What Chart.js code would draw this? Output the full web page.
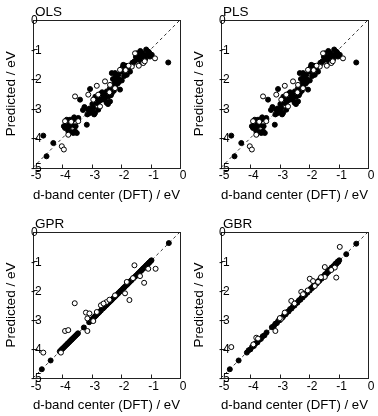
<!DOCTYPE html>
<html><head><meta charset="utf-8">
<script src="https://cdn.jsdelivr.net/npm/chart.js@4.4.0/dist/chart.umd.min.js"></script>
<style>
html,body{margin:0;padding:0;background:#fff;width:378px;height:416px;overflow:hidden}
.p{position:absolute}
canvas{display:block}
</style></head><body>
<div class="p" style="left:0;top:0"><canvas id="c1" width="189" height="208"></canvas></div>
<div class="p" style="left:188px;top:0"><canvas id="c2" width="189" height="208"></canvas></div>
<div class="p" style="left:0;top:212px"><canvas id="c3" width="189" height="204"></canvas></div>
<div class="p" style="left:188px;top:212px"><canvas id="c4" width="189" height="204"></canvas></div>
<script>
// ---- data ----
const panelNames = ['OLS', 'PLS', 'GPR', 'GBR'];
const xTitle = 'd-band center (DFT) / eV';
const yTitle = 'Predicted / eV';
const tickValues = [-5, -4, -3, -2, -1, 0];
const tickLabels = ['-5', '-4', '-3', '-2', '-1', '0'];
const diagonal = [-5, 0];

// OLS: filled = training, open = test
const olsTrainDFT = [-4.54,-4.31,-4.65,-3.91,-3.80,-3.74,-3.63,-3.68,-3.57,-3.63,
  -3.51,-3.46,-3.85,-3.80,-3.88,-3.40,-3.06,-3.12,-3.00,-2.89,
  -3.06,-2.95,-2.78,-3.17,-2.83,-2.72,-2.66,-2.61,-2.55,-2.49,
  -2.44,-2.38,-2.32,-2.38,-2.27,-2.04,-2.21,-2.04,-2.15,-2.10,
  -1.98,-2.21,-2.32,-1.93,-1.87,-1.76,-1.81,-1.70,-1.64,-1.47,
  -1.36,-1.25,-1.13,-1.08,-1.42,-1.30,-1.02,-0.96,-0.40,-2.83,
  -2.60,-2.50,-2.20,-2.12,-1.95,-1.90,-1.55,-1.50,-1.35,-1.20,
  -1.15,-1.05,-3.70,-3.60,-3.95,-2.92,-3.08,-2.70,-2.45,-2.28,
  -3.30,-3.25,-3.15,-2.98,-2.88,-2.75,-2.65,-2.52,-2.35,-2.25,
  -2.18,-2.08,-1.98,-1.85,-1.72,-1.62,-1.28,-1.18,-3.78,-3.55];
const olsTrainPred = [-4.62,-4.17,-3.92,-3.66,-3.55,-3.38,-3.38,-3.55,-3.77,-3.83,
  -3.83,-3.32,-3.38,-3.77,-3.50,-2.70,-2.34,-3.04,-3.10,-3.15,
  -3.15,-2.98,-3.04,-3.55,-2.82,-2.59,-2.70,-2.53,-2.70,-2.42,
  -2.59,-2.76,-2.48,-2.31,-2.20,-2.36,-2.08,-2.03,-1.97,-1.86,
  -1.75,-1.80,-1.80,-1.52,-1.63,-1.63,-1.86,-1.75,-1.52,-1.13,
  -1.24,-1.30,-1.18,-1.07,-1.35,-1.41,-1.24,-1.18,-1.44,-2.70,
  -2.65,-2.80,-2.25,-2.15,-1.60,-1.90,-1.40,-1.25,-1.05,-1.20,
  -1.00,-1.10,-3.80,-3.30,-3.60,-3.20,-3.00,-2.50,-2.85,-2.00,
  -3.05,-2.95,-3.20,-2.85,-2.60,-2.75,-2.45,-2.55,-2.55,-2.40,
  -1.90,-2.10,-2.05,-1.55,-1.58,-1.45,-1.12,-1.32,-3.62,-3.60];
const olsTestDFT = [-1.53,-1.25,-0.85,-1.64,-2.55,-2.83,-2.04,-2.21,-2.78,-2.72,
  -2.38,-3.12,-3.57,-2.95,-3.91,-3.80,-4.02,-3.95,-1.40,-1.75,-3.46,-1.20,-1.85,-2.40,-3.70];
const olsTestPred = [-1.13,-1.46,-1.30,-1.58,-2.08,-2.23,-1.69,-2.31,-2.53,-2.93,
  -2.20,-2.53,-2.59,-2.70,-3.43,-3.89,-4.28,-4.39,-1.55,-1.55,-3.43,-1.40,-1.70,-2.45,-3.45];

// PLS: the picture is the same as OLS
const plsTrainDFT = olsTrainDFT;
const plsTrainPred = olsTrainPred;
const plsTestDFT = olsTestDFT;
const plsTestPred = olsTestPred;

// GPR: training points lie on the diagonal
const gprTrainDFT = [-0.38,-0.97,-1.00,-1.04,-1.06,-1.09,-1.13,-1.15,-1.18,-1.22,
  -1.25,-1.27,-1.31,-1.33,-1.37,-1.41,-1.44,-1.49,-1.52,-1.57,
  -1.60,-1.65,-1.68,-1.73,-1.77,-1.80,-1.84,-1.89,-1.92,-1.96,
  -2.01,-2.04,-2.09,-2.12,-2.17,-2.20,-2.24,-2.29,-2.33,-2.36,
  -2.41,-2.46,-2.51,-2.57,-2.62,-2.69,-2.74,-2.79,-2.84,-2.88,
  -2.91,-2.96,-3.01,-3.04,-3.09,-3.27,-3.47,-3.51,-3.55,-3.59,
  -3.63,-3.67,-3.70,-3.74,-3.78,-3.82,-3.85,-3.89,-3.93,-3.97,
  -4.01,-4.05,-4.09,-4.40,-4.70];
const gprTrainPred = [-0.38,-0.97,-1.00,-1.04,-1.06,-1.09,-1.13,-1.15,-1.18,-1.22,
  -1.25,-1.27,-1.31,-1.33,-1.37,-1.41,-1.44,-1.49,-1.52,-1.57,
  -1.60,-1.65,-1.68,-1.73,-1.77,-1.80,-1.84,-1.89,-1.92,-1.96,
  -2.01,-2.04,-2.09,-2.12,-2.17,-2.20,-2.24,-2.29,-2.33,-2.36,
  -2.41,-2.46,-2.51,-2.57,-2.62,-2.69,-2.74,-2.79,-2.84,-2.88,
  -2.91,-2.96,-3.01,-3.04,-3.09,-3.27,-3.47,-3.51,-3.55,-3.59,
  -3.63,-3.67,-3.70,-3.74,-3.78,-3.82,-3.85,-3.89,-3.93,-3.97,
  -4.01,-4.05,-4.09,-4.40,-4.70];
const gprTestDFT = [-1.55,-1.08,-0.83,-1.36,-1.22,-1.81,-1.87,-1.72,-2.21,-2.69,
  -2.83,-3.20,-3.08,-3.15,-3.15,-3.58,-3.91,-3.80,-4.05,-4.65,-2.50,-2.95,-1.60,-2.40,-2.60];
const gprTestPred = [-1.14,-1.26,-1.26,-1.51,-1.74,-1.71,-2.10,-2.33,-2.17,-2.51,
  -2.74,-2.76,-2.79,-2.96,-3.39,-2.44,-3.39,-3.36,-4.13,-4.13,-2.40,-3.05,-1.58,-2.32,-2.45];

// GBR
const gbrTrainDFT = [-0.40,-0.74,-0.98,-1.01,-1.04,-1.08,-1.11,-1.14,-1.18,-1.21,
  -1.24,-1.28,-1.31,-1.35,-1.38,-1.42,-1.46,-1.50,-1.54,-1.58,
  -1.62,-1.66,-1.70,-1.74,-1.78,-1.82,-1.86,-1.90,-1.94,-1.98,
  -2.02,-2.06,-2.10,-2.14,-2.18,-2.22,-2.26,-2.30,-2.35,-2.40,
  -2.45,-2.50,-2.55,-2.60,-2.65,-2.70,-2.75,-2.80,-2.85,-2.90,
  -2.95,-3.00,-3.05,-3.10,-3.15,-3.20,-3.27,-3.45,-3.52,-3.58,
  -3.64,-3.70,-3.76,-3.82,-3.88,-3.94,-4.00,-4.06,-4.12,-4.40,-4.70];
const gbrTrainPred = [-0.40,-0.76,-0.97,-1.03,-1.02,-1.10,-1.09,-1.16,-1.17,-1.23,
  -1.22,-1.30,-1.29,-1.37,-1.36,-1.44,-1.45,-1.52,-1.53,-1.60,
  -1.60,-1.68,-1.69,-1.76,-1.77,-1.84,-1.85,-1.92,-1.93,-2.00,
  -2.01,-2.08,-2.09,-2.16,-2.17,-2.24,-2.25,-2.32,-2.34,-2.42,
  -2.44,-2.52,-2.54,-2.62,-2.64,-2.72,-2.74,-2.82,-2.84,-2.92,
  -2.94,-3.02,-3.04,-3.12,-3.14,-3.22,-3.26,-3.44,-3.54,-3.57,
  -3.66,-3.69,-3.78,-3.81,-3.90,-3.93,-4.02,-4.05,-4.13,-4.40,-4.70];
const gbrTestDFT = [-0.96,-1.47,-1.13,-1.08,-1.98,-1.87,-1.81,-1.70,-1.47,-2.27,
  -2.21,-2.61,-2.83,-2.95,-3.15,-3.80,-3.74,-4.65,-2.50,-3.00,-1.60,-3.90,-2.05,-1.25];
const gbrTestPred = [-0.51,-1.20,-1.22,-1.56,-1.60,-1.68,-1.85,-1.71,-1.54,-2.05,
  -2.13,-2.36,-2.76,-2.97,-3.39,-3.62,-3.65,-3.94,-2.45,-2.95,-1.55,-3.85,-2.00,-1.30];

// ---- drawing ----
const FONT = '"Liberation Sans", Arial, Helvetica, sans-serif';
const pts = (xs, ys) => xs.map((v, i) => ({x: v, y: ys[i]}));

const framePlugin = {
  id: 'frame',
  afterDraw(chart, args, opts) {
    const {ctx, chartArea: a, scales: {x, y}} = chart;
    ctx.save();
    ctx.strokeStyle = '#222';
    ctx.lineWidth = 1;
    const L = Math.round(a.left) + 0.5, T = Math.round(a.top) + 0.5;
    const R = Math.round(a.right) + 0.5, B = Math.round(a.bottom) + 0.5;
    ctx.strokeRect(L, T, R - L, B - T);
    ctx.beginPath();
    tickValues.forEach(v => { const px = Math.round(x.getPixelForValue(v)) + 0.5; ctx.moveTo(px, B); ctx.lineTo(px, B - 4); });
    tickValues.forEach(v => { const py = Math.round(y.getPixelForValue(v)) + 0.5; ctx.moveTo(L, py); ctx.lineTo(L + 4, py); });
    ctx.stroke();
    ctx.fillStyle = '#000';
    // y tick labels: they sit across the left axis line
    ctx.font = '12px ' + FONT;
    ctx.textAlign = 'left';
    ctx.textBaseline = 'middle';
    tickValues.forEach((v, i) => { ctx.fillText(tickLabels[i], a.left - 2, y.getPixelForValue(v) + 1); });
    ctx.font = '13.5px ' + FONT;
    ctx.fillText(opts.text, a.left + 2, a.top - 8);
    ctx.restore();
  }
};

function makePanel(id, name, trX, trY, teX, teY, g) {
  new Chart(document.getElementById(id), {
    type: 'scatter',
    data: {
      datasets: [
        {data: pts(teX, teY), pointRadius: 2.5, borderWidth: 1, borderColor: '#000', backgroundColor: '#fff'},
        {data: pts(trX, trY), pointRadius: 2.5, borderWidth: 1, borderColor: '#000', backgroundColor: '#000'},
        {type: 'line', data: pts(diagonal, diagonal), borderColor: '#333', borderWidth: 1, borderDash: [3, 3], pointRadius: 0, fill: false}
      ]
    },
    options: {
      responsive: false, animation: false, devicePixelRatio: 1,
      layout: {padding: {top: 20, right: 9, left: 0, bottom: 0}},
      plugins: {legend: {display: false}, tooltip: {enabled: false}, frame: {text: name}},
      scales: {
        x: {
          type: 'linear', min: -5, max: 0,
          border: {display: false},
          grid: {display: false, drawTicks: false},
          afterBuildTicks: s => { s.ticks = tickValues.map(v => ({value: v})); },
          ticks: {padding: 1, labelOffset: 3, color: '#000', font: {family: FONT, size: 12}, callback: (v, i) => tickLabels[i], maxRotation: 0, autoSkip: false},
          title: {display: true, text: xTitle, color: '#000', font: {family: FONT, size: 13.5}, padding: {top: 0, bottom: g.titlePad}},
          afterFit: s => { s.height = g.xh; }
        },
        y: {
          type: 'linear', min: -5, max: 0,
          border: {display: false},
          grid: {display: false, drawTicks: false},
          ticks: {display: false},
          title: {display: true, text: yTitle, color: '#000', font: {family: FONT, size: 13.5}, padding: {top: 3, bottom: 0}},
          afterFit: s => { s.width = 33; }
        }
      }
    },
    plugins: [framePlugin]
  });
}

const topGeom = {xh: 40.5, titlePad: 5};
const botGeom = {xh: 38, titlePad: 3};
makePanel('c1', panelNames[0], olsTrainDFT, olsTrainPred, olsTestDFT, olsTestPred, topGeom);
makePanel('c2', panelNames[1], plsTrainDFT, plsTrainPred, plsTestDFT, plsTestPred, topGeom);
makePanel('c3', panelNames[2], gprTrainDFT, gprTrainPred, gprTestDFT, gprTestPred, botGeom);
makePanel('c4', panelNames[3], gbrTrainDFT, gbrTrainPred, gbrTestDFT, gbrTestPred, botGeom);
</script>
</body></html>
